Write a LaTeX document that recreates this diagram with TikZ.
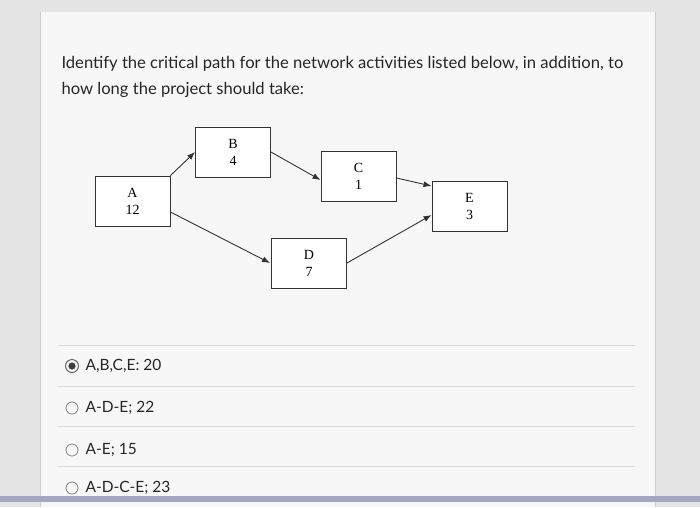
\documentclass[tikz,border=0pt]{standalone}
\usepackage{fontspec}
\setmainfont{Lato}
\newfontfamily\boxfont{Liberation Serif}
\usetikzlibrary{arrows.meta}
\begin{document}
\begin{tikzpicture}[x=1pt,y=-1pt,
  act/.style={draw=black!80,line width=0.9pt,fill=white,minimum width=75pt,minimum height=50pt,inner sep=0pt,align=center,font=\boxfont\fontsize{14}{17}\selectfont},
  con/.style={draw=black!80,line width=0.9pt,-{Latex[length=8pt,width=6pt]}},
  txt/.style={anchor=west,font=\fontsize{15.5}{18}\selectfont,text=black!85},
  qtxt/.style={anchor=west,font=\fontsize{16.6}{20}\selectfont,text=black!85},
  sep/.style={draw=black!15,line width=0.8pt}]
\fill[black!10] (0,0) rectangle (700,507);
\fill[black!3] (40,12) rectangle (655,507);
\draw[black!20] (40,12) -- (40,507) (655,12) -- (655,507);
\fill[blue!30!black!35] (0,496) rectangle (700,502);
\node[qtxt] (q1) at (58,64) {Identify the critical path for the network activities listed below, in addition, to};
\node[qtxt] (q2) at (58,90) {how long the project should take:};
\node[act] (A) at (132.5,201) {A\\12};
\node[act] (B) at (233,152) {B\\4};
\node[act] (C) at (358.5,176) {C\\1};
\node[act] (D) at (309,263) {D\\7};
\node[act] (E) at (469.5,206) {E\\3};
\draw[con] (A.north east) -- (B.west);
\draw[con] (B.east) -- ([yshift=-4pt]C.west);
\draw[con] ([yshift=-2pt]C.east) -- ([yshift=20pt]E.west);
\draw[con] ([yshift=-11pt]A.east) -- ([xshift=-1pt]D.west);
\draw[con] (D.east) -- ([yshift=-9pt]E.west);
\draw[sep] (58,345) -- (635,345);
\draw[sep] (58,386) -- (635,386);
\draw[sep] (58,426) -- (635,426);
\draw[sep] (58,466) -- (635,466);
\node[circle,draw=black!60,line width=1pt,minimum size=13pt,inner sep=0pt] (r1) at (72,366) {};
\fill[black!75] (r1) circle (3.6pt);
\node[circle,draw=black!50,line width=0.8pt,minimum size=12pt,inner sep=0pt] (r2) at (72,408) {};
\node[circle,draw=black!50,line width=0.8pt,minimum size=12pt,inner sep=0pt] (r3) at (72,450) {};
\node[circle,draw=black!50,line width=0.8pt,minimum size=12pt,inner sep=0pt] (r4) at (72,488) {};
\node[txt] (o1) at (82,366) {A,B,C,E: 20};
\node[txt] (o2) at (82,408) {A-D-E; 22};
\node[txt] (o3) at (82,450) {A-E; 15};
\node[txt] (o4) at (82,488) {A-D-C-E; 23};
\end{tikzpicture}
\end{document}
